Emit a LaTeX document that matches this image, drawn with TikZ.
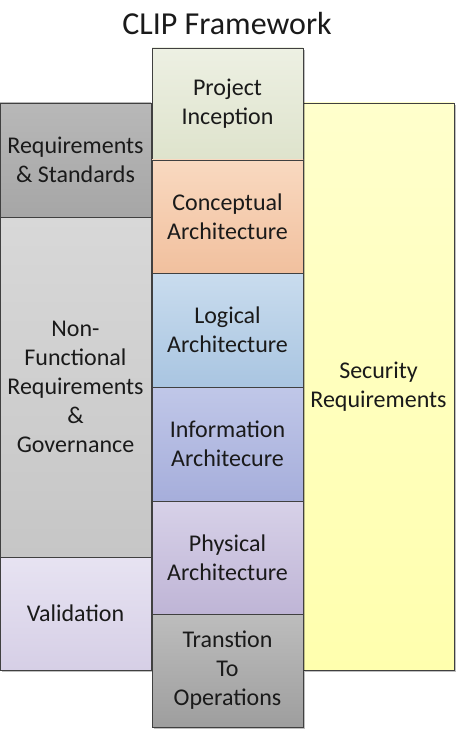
\documentclass[tikz,border=0pt]{standalone}
\usepackage{fontspec}
\setmainfont{Carlito}
\usetikzlibrary{shadows}
\definecolor{txt}{HTML}{1A1A1A}
\definecolor{edge}{HTML}{404040}
\tikzset{
  x=1pt, y=-1pt,
  blk/.style={rectangle, draw=edge, line width=0.8pt, minimum width=151pt,
    inner sep=2pt, align=center, text=txt, font=\fontsize{24}{29}\selectfont,
    drop shadow={shadow xshift=2pt, shadow yshift=-2pt, fill=black, opacity=0.25}},
  sh/.style 2 args={top color=#1, bottom color=#2},
}
\definecolor{piA}{HTML}{EDF0E3}\definecolor{piB}{HTML}{DEE3CC}
\definecolor{caA}{HTML}{F9D9C0}\definecolor{caB}{HTML}{F1C09E}
\definecolor{laA}{HTML}{C9DCEE}\definecolor{laB}{HTML}{A9C5E1}
\definecolor{iaA}{HTML}{C0C7E8}\definecolor{iaB}{HTML}{A6AEDB}
\definecolor{paA}{HTML}{D7D1E8}\definecolor{paB}{HTML}{BFB5D6}
\definecolor{toA}{HTML}{BDBDBD}\definecolor{toB}{HTML}{9E9E9E}
\definecolor{rsA}{HTML}{B8B8B8}\definecolor{rsB}{HTML}{A6A6A6}
\definecolor{nfA}{HTML}{D8D8D8}\definecolor{nfB}{HTML}{C6C6C6}
\definecolor{vaA}{HTML}{E7E3F2}\definecolor{vaB}{HTML}{D6CFE6}
\definecolor{srA}{HTML}{FFFFCC}\definecolor{srB}{HTML}{FFFFAE}
\begin{document}
\begin{tikzpicture}
\useasboundingbox (0,0) rectangle (457,730);
\node[text=txt, font=\fontsize{32}{38}\selectfont] (title) at (227,24) {CLIP Framework};
% left column
\node[blk, sh={rsA}{rsB}, minimum height=114pt] (rs) at (75.5,160) {Requirements\\\& Standards};
\node[blk, sh={nfA}{nfB}, minimum height=340pt] (nf) at (75.5,387) {Non-\\Functional\\Requirements\\\&\\Governance};
\node[blk, sh={vaA}{vaB}, minimum height=113pt] (va) at (75.5,613.5) {Validation};
% right column
\node[blk, sh={srA}{srB}, minimum height=567pt] (sr) at (378.5,386.5) {Security\\Requirements};
% center column
\node[blk, sh={piA}{piB}, minimum height=112pt] (pi) at (227.5,104) {Project\\Inception};
\node[blk, sh={caA}{caB}, minimum height=113pt] (ca) at (227.5,216.5) {Conceptual\\Architecture};
\node[blk, sh={laA}{laB}, minimum height=114pt] (la) at (227.5,330) {Logical\\Architecture};
\node[blk, sh={iaA}{iaB}, minimum height=114pt] (ia) at (227.5,444) {Information\\Architecure};
\node[blk, sh={paA}{paB}, minimum height=113pt] (pa) at (227.5,557.5) {Physical\\Architecture};
\node[blk, sh={toA}{toB}, minimum height=113pt] (to) at (227.5,670.5) {Transtion\\To\\Operations};
\end{tikzpicture}
\end{document}
